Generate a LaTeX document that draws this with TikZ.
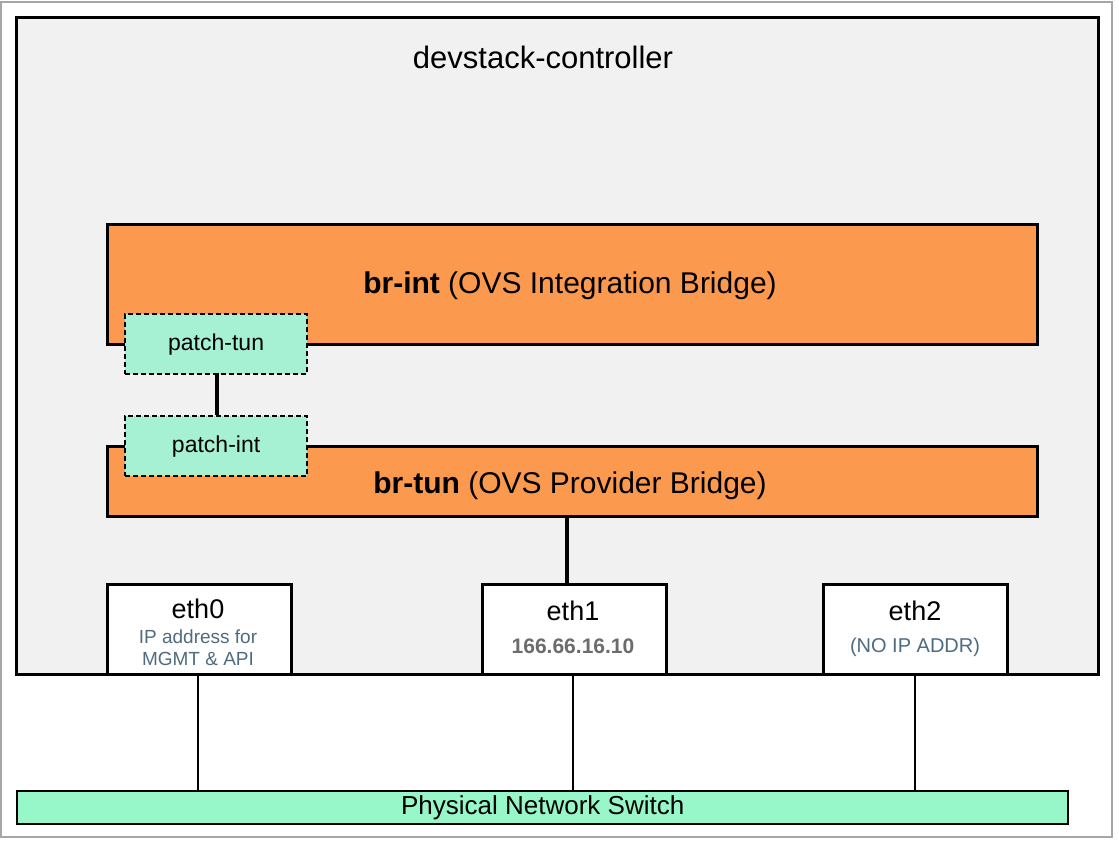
\documentclass[tikz,border=0pt]{standalone}
\usepackage{fontspec}
\setmainfont{Liberation Sans}
\begin{document}
\begin{tikzpicture}[x=1pt,y=-1pt,
  box/.style={draw=black,line width=3pt,inner sep=0pt},
  orange/.style={box,fill=brorange},
  patch/.style={draw=black,line width=2.2pt,dash pattern=on 5pt off 3pt,fill=patchgreen,inner sep=0pt},
  eth/.style={box,fill=white},
  sub/.style={text=subblue,font=\fontsize{20}{23}\selectfont,align=center},
  conn/.style={draw=black,line width=2.2pt}]
\definecolor{brorange}{HTML}{FB9A4E}
\definecolor{patchgreen}{HTML}{A6F0D3}
\definecolor{switchgreen}{HTML}{97F7C9}
\definecolor{ctrlgray}{HTML}{F1F1F1}
\definecolor{subblue}{HTML}{4F6B80}
\useasboundingbox (0,0) rectangle (1119,843);
\fill[white] (0,0) rectangle (1119,843);
\draw[gray!70,line width=1.5pt] (1,2) rectangle (1112,837);
\node[box,fill=ctrlgray,minimum width=1082pt,minimum height=657pt,anchor=north west] (ctrl) at (15,16) {};
\node[font=\fontsize{31}{36}\selectfont] (title) at (543,57) {devstack-controller};
\node[orange,minimum width=930pt,minimum height=120pt,anchor=north west] (brint) at (106,223) {};
\node[font=\fontsize{30}{36}\selectfont] at (570,286) {\textbf{br-int} (OVS Integration Bridge)};
\node[orange,minimum width=930pt,minimum height=70pt,anchor=north west] (brtun) at (106,445) {};
\node[font=\fontsize{30}{36}\selectfont] at (570,486) {\textbf{br-tun} (OVS Provider Bridge)};
\node[patch,minimum width=182pt,minimum height=60pt,anchor=north west,font=\fontsize{23}{27}\selectfont] (ptun) at (124,313) {patch-tun};
\node[patch,minimum width=182pt,minimum height=60pt,anchor=north west,font=\fontsize{23}{27}\selectfont] (pint) at (124,415) {patch-int};
\draw[conn,line width=3.2pt] (217,373) -- (217,415);
\node[eth,minimum width=184pt,minimum height=90pt,anchor=north west] (eth0) at (106,583) {};
\node[eth,minimum width=184pt,minimum height=90pt,anchor=north west] (eth1) at (481,583) {};
\node[eth,minimum width=184pt,minimum height=90pt,anchor=north west] (eth2) at (822,583) {};
\node[font=\fontsize{27}{31}\selectfont] at (198,609) {eth0};
\node[sub,font=\fontsize{19}{22}\selectfont] at (198,648) {IP address for\\MGMT \& API};
\node[font=\fontsize{27}{31}\selectfont] at (573,611) {eth1};
\node[sub,font=\bfseries\fontsize{21}{24}\selectfont,text=gray!85!black] at (573,646) {166.66.16.10};
\node[font=\fontsize{27}{31}\selectfont] at (915,611) {eth2};
\node[sub] at (915,647) {(NO IP ADDR)};
\draw[conn,line width=3.4pt] (567,515) -- (567,583);
\node[box,fill=switchgreen,line width=2.4pt,minimum width=1051pt,minimum height=33pt,anchor=north west,font=\fontsize{26}{30}\selectfont] (sw) at (16,790) {Physical Network Switch};
\draw[conn] (198,673) -- (198,790);
\draw[conn] (573,673) -- (573,790);
\draw[conn] (915,673) -- (915,790);
\end{tikzpicture}
\end{document}
